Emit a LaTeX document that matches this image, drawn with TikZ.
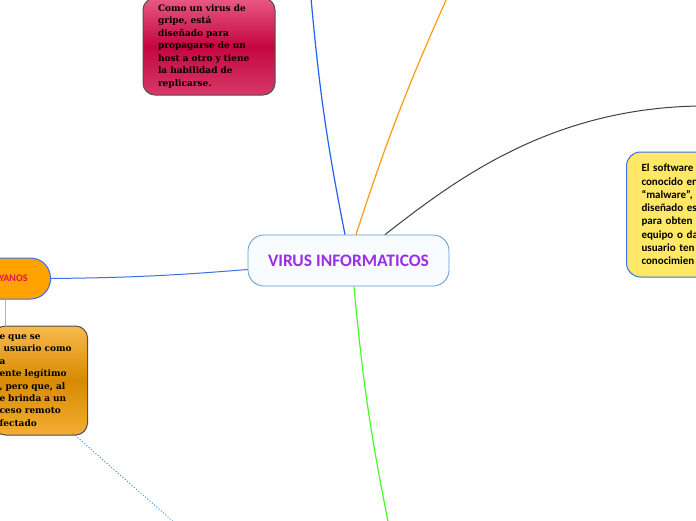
\documentclass[tikz,border=0pt]{standalone}
\usepackage{fontspec}
\setmainfont{Carlito}
\newfontfamily\slabfont{DejaVu Serif}
\usepackage{tikz}
\usetikzlibrary{positioning}

\definecolor{topicblue}{HTML}{5A9AD8}
\definecolor{topicfill}{HTML}{F8FCFF}
\definecolor{topicpurple}{HTML}{9A2EE8}
\definecolor{boxgray}{HTML}{505050}
\definecolor{boxblue}{HTML}{3A70E8}
\definecolor{pinktop}{HTML}{E85A84}
\definecolor{pinkmid}{HTML}{C4063E}
\definecolor{pinkbot}{HTML}{D8386A}
\definecolor{orangetop}{HTML}{F8BA4C}
\definecolor{orangemid}{HTML}{D88A02}
\definecolor{orangebot}{HTML}{F4AE34}
\definecolor{malyellow}{HTML}{FFE866}
\definecolor{troyorange}{HTML}{FFA200}
\definecolor{troyred}{HTML}{E8104A}
\definecolor{lineblue}{HTML}{2062F0}
\definecolor{lineorange}{HTML}{FF9A10}
\definecolor{linedark}{HTML}{404040}
\definecolor{linegreen}{HTML}{44FF22}
\definecolor{linegray}{HTML}{B4B4B4}
\definecolor{linedot}{HTML}{3A8EE0}

\tikzset{
  topic/.style={draw=topicblue, line width=0.8pt, fill=topicfill, rounded corners=16pt,
    minimum width=201pt, minimum height=51pt, text=topicpurple,
    font=\bfseries\fontsize{17.5}{20}\selectfont},
  slabbox/.style={draw=boxgray, line width=1pt, rounded corners=12pt, align=left,
    font=\slabfont\bfseries\fontsize{9}{12.5}\selectfont},
  sansbox/.style={draw=boxblue, line width=1pt, align=left,
    font=\bfseries\fontsize{11}{13.3}\selectfont},
  link/.style={line width=1.2pt},
}

\begin{document}
\begin{tikzpicture}[x=1pt, y=-1pt]
        \useasboundingbox (0,0) rectangle (696,520);
        \fill[white] (0,0) rectangle (696,520);
        \clip (0,0) rectangle (696,520);
        % Central topic
        \node[topic] (virus) at (348.5,260.5) {VIRUS INFORMATICOS};
        % Boxes round it
        \node[slabbox, top color=pinktop, bottom color=pinkbot, middle color=pinkmid,
          minimum width=132pt, minimum height=97pt, text width=102pt, inner xsep=15pt]
          (gripe) at (209,46.5)
          {Como un virus de\\gripe, está\\diseñado para\\propagarse de un\\host a otro y tiene\\la habilidad de\\replicarse.};
        \node[sansbox, fill=malyellow, rounded corners=14pt, minimum height=125pt,
          text width=110pt, inner xsep=15pt, anchor=west] (malware) at (626,214.5)
          {El software\\conocido en\\“malware”,\\diseñado es\\para obten\\equipo o da\\usuario ten\\conocimien};
        \node[sansbox, fill=troyorange, rounded corners=20pt, minimum height=41pt,
          text width=60pt, inner xsep=23pt, align=right, anchor=east, text=troyred,
          font=\bfseries\fontsize{10}{11}\selectfont] (troy) at (51,278.5) {YANOS};
        \node[slabbox, top color=orangetop, bottom color=orangebot, middle color=orangemid,
          minimum height=109pt, text width=82pt, inner xsep=6pt, anchor=east,
          font=\slabfont\bfseries\fontsize{9}{12.4}\selectfont] (trojan) at (88,380.5)
          {e que se\\\hspace*{4pt}usuario como\\a\\ente legítimo\\, pero que, al\\e brinda a un\\ceso remoto\\fectado};
        % Free ends
        \coordinate (bluetop) at (311,-2);
        \coordinate (orangetop) at (447,-2);
        \coordinate (darkend) at (700,106);
        \coordinate (greenend) at (388.5,524);
        \coordinate (dotend) at (176,524);
        % Connectors
        \draw[link, lineblue] ([xshift=-3.5pt]virus.north) to[bend left=3] (bluetop);
        \draw[link, lineorange] ([xshift=7.5pt]virus.north) to[bend left=3] (orangetop);
        \draw[line width=1pt, linedark] ([xshift=36.5pt]virus.north) .. controls (455,180) and (550,108) .. (darkend);
        \draw[link, linegreen] ([xshift=5.5pt]virus.south) to[bend right=3] (greenend);
        \draw[line width=1pt, boxblue] ([yshift=-9pt]virus.west) to[bend left=2] (troy.east);
        \draw[line width=1pt, linegray] (troy.south -| 5,0) -- (trojan.north -| 5,0);
        \draw[line width=1pt, linedot, dotted] ([xshift=-15pt,yshift=2pt]trojan.south east) -- (dotend);
    \end{tikzpicture}
\end{document}
